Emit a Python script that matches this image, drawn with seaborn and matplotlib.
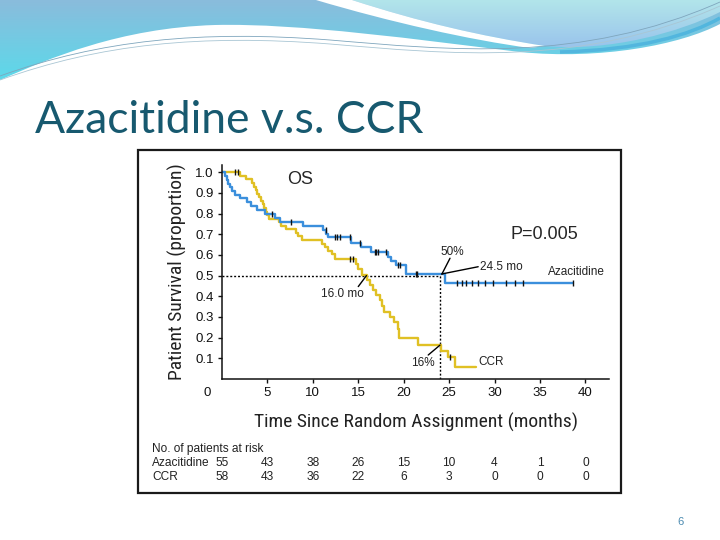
import numpy as np
import matplotlib
matplotlib.use("Agg")
import matplotlib.pyplot as plt
import matplotlib.transforms as mtransforms
from matplotlib.colors import LinearSegmentedColormap
from matplotlib.patches import PathPatch, Rectangle
from matplotlib.path import Path
import seaborn as sns

# Kaplan-Meier steps: month of each drop and survival after it
AZA_TIMES = [0, 0.3, 0.5, 0.7, 0.9, 1.1, 1.4, 2.0, 2.7, 3.2, 3.8, 4.7, 5.8, 6.4,
             8.9, 11.1, 11.5, 11.7, 14.25, 15.35, 16.45, 18.3, 18.65, 19.2,
             20.3, 24.6]
AZA_SURV = [1.0, 0.982, 0.964, 0.945, 0.927, 0.909, 0.891, 0.873, 0.855, 0.836,
            0.818, 0.800, 0.780, 0.760, 0.742, 0.722, 0.703, 0.685, 0.660,
            0.637, 0.613, 0.592, 0.572, 0.551, 0.508, 0.463]
AZA_END = 38.6
AZA_CENSOR = [5.5, 7.6, 11.4, 12.4, 12.7, 13.0, 14.1, 15.2, 16.8, 17.0, 17.2,
              18.1, 19.4, 19.6, 21.3, 21.5, 25.9, 26.4, 26.9, 27.5, 28.2, 28.9,
              29.8, 31.3, 32.2, 33.1, 38.6]

CCR_TIMES = [0, 2.0, 2.6, 3.3, 3.5, 3.7, 3.9, 4.1, 4.3, 4.5, 4.6, 4.8, 4.9, 5.2,
             6.3, 6.5, 7.0, 8.1, 8.4, 8.8, 11.0, 11.3, 11.7, 12.1, 12.4, 14.7,
             15.0, 15.4, 16.0, 16.3, 16.6, 17.0, 17.4, 17.6, 17.8, 18.5, 18.9,
             19.4, 19.5, 21.6, 24.1, 24.9, 25.7]
CCR_SURV = [1.0, 0.983, 0.966, 0.948, 0.931, 0.914, 0.897, 0.879, 0.862, 0.845,
            0.828, 0.810, 0.793, 0.776, 0.759, 0.741, 0.724, 0.707, 0.690,
            0.672, 0.655, 0.638, 0.621, 0.603, 0.580, 0.556, 0.532, 0.505,
            0.479, 0.455, 0.431, 0.407, 0.383, 0.355, 0.326, 0.302, 0.278,
            0.240, 0.197, 0.164, 0.137, 0.108, 0.058]
CCR_END = 28.0
CCR_CENSOR = [1.4, 1.75, 14.1, 14.4, 25.1]

RISK_MONTHS = [0, 5, 10, 15, 20, 25, 30, 35, 40]
AZA_RISK = [55, 43, 38, 26, 15, 10, 4, 1, 0]
CCR_RISK = [58, 43, 36, 22, 6, 3, 0, 0, 0]

X_TICKS = [5, 10, 15, 20, 25, 30, 35, 40]
Y_TICKS = [0.1, 0.2, 0.3, 0.4, 0.5, 0.6, 0.7, 0.8, 0.9, 1.0]

BLUE = "#3b8fdc"
YELLOW = "#e0c024"
TITLE_COLOR = "#17596f"

ARIAL = ["Liberation Sans", "DejaVu Sans"]
NARROW = ["Roboto Condensed", "Liberation Sans Narrow", "Roboto"]


def surv_at(times, surv, t):
    ''' look up the step value at time t '''
    idx = np.searchsorted(times, t, side="right") - 1
    return surv[idx]


def gradient_patch(bg, verts, codes, top, bottom, c_top, c_bottom):
    ''' fill a bezier path with a vertical gradient (pixel coords) '''
    patch = PathPatch(Path(verts, codes), facecolor="none", edgecolor="none")
    bg.add_patch(patch)
    cmap = LinearSegmentedColormap.from_list("g", [c_top, c_bottom])
    grad = np.linspace(0, 1, 100).reshape(-1, 1)
    im = bg.imshow(grad, cmap=cmap, extent=(0, 720, bottom, top),
                   origin="upper", aspect="auto", zorder=1)
    im.set_clip_path(patch)


def draw_header(bg):
    M, L, C, Z = Path.MOVETO, Path.LINETO, Path.CURVE4, Path.CLOSEPOLY
    teal = [(0, 0), (0, 80), (50, 58), (120, 28), (215, 25), (300, 23),
            (420, 40), (520, 52), (600, 60), (680, 45), (720, 24), (720, 0),
            (0, 0)]
    gradient_patch(bg, teal, [M, L, C, C, C, C, C, C, C, C, C, L, Z],
                   0, 80, "#8abcdc", "#5cd9ea")
    swoosh = [(316, 0), (390, 22), (470, 40), (530, 48), (545, 46),
              (480, 36), (420, 22), (352, 0), (316, 0)]
    bg.add_patch(PathPatch(Path(swoosh, [M, C, C, C, L, C, C, C, Z]),
                           facecolor="white", edgecolor="none", zorder=2))
    pale = [(352, 0), (420, 22), (480, 36), (545, 46), (610, 52), (680, 32),
            (720, 12), (720, 0), (352, 0)]
    gradient_patch(bg, pale, [M, C, C, C, C, C, C, L, Z],
                   0, 50, "#b2e5ea", "#98c2ec")
    # thin blue lines across the header
    for off, col in [(0, "#7fa6bd"), (4, "#a9c6d4")]:
        line = [(0, 76 + off), (100, 40 + off), (200, 30 + off),
                (330, 40 + off), (450, 50 + off), (580, 64 + off),
                (720, 2 + off)]
        bg.add_patch(PathPatch(Path(line, [M, C, C, C, C, C, C]),
                               facecolor="none", edgecolor=col, lw=0.6,
                               zorder=3))
    band = [(560, 52), (640, 50), (690, 35), (720, 18)]
    bg.add_patch(PathPatch(Path(band, [M, C, C, C]), facecolor="none",
                           edgecolor="#52b6de", lw=2.5, zorder=3))


def main():
    sns.set_theme(style="white")
    plt.rcParams["font.family"] = ARIAL

    fig = plt.figure(figsize=(7.2, 5.4), dpi=100)
    bg = fig.add_axes([0, 0, 1, 1], zorder=0)
    bg.set_xlim(0, 720)
    bg.set_ylim(540, 0)
    bg.axis("off")

    draw_header(bg)
    bg.set_xlim(0, 720)
    bg.set_ylim(540, 0)

    bg.text(35, 133, "Azacitidine v.s. CCR", fontsize=32, color=TITLE_COLOR,
            family=["Lato", "DejaVu Sans"], va="baseline", ha="left")
    bg.text(680, 522, "6", fontsize=8, color="#4a8ab0", ha="center",
            va="center")
    bg.add_patch(Rectangle((138, 150), 483, 343, facecolor="white",
                           edgecolor="#1a1a1a", lw=1.6, zorder=4))

    ax = fig.add_axes([222 / 720, 1 - 379 / 540, (609 - 222) / 720,
                       (379 - 165) / 540], zorder=2)
    ax.set_facecolor("none")

    # reference lines for the medians and the 24-month mark
    dot = (0, (1.4, 1.4))
    sns.lineplot(x=[0, 24.0], y=[0.5, 0.5], color="black", lw=1,
                 linestyle=dot, ax=ax)
    sns.lineplot(x=[24.0, 24.0], y=[0, 0.5], color="black", lw=1,
                 linestyle=dot, ax=ax, orient="y")

    # survival curves
    aza_x = AZA_TIMES + [AZA_END]
    aza_y = AZA_SURV + [AZA_SURV[-1]]
    ccr_x = CCR_TIMES + [CCR_END]
    ccr_y = CCR_SURV + [CCR_SURV[-1]]
    sns.lineplot(x=ccr_x, y=ccr_y, drawstyle="steps-post", color=YELLOW,
                 lw=1.7, estimator=None, ax=ax)
    sns.lineplot(x=aza_x, y=aza_y, drawstyle="steps-post", color=BLUE,
                 lw=1.7, estimator=None, ax=ax)

    aza_cy = [surv_at(AZA_TIMES, AZA_SURV, t) for t in AZA_CENSOR]
    ccr_cy = [surv_at(CCR_TIMES, CCR_SURV, t) for t in CCR_CENSOR]
    sns.scatterplot(x=AZA_CENSOR + CCR_CENSOR, y=aza_cy + ccr_cy,
                    marker="|", s=14, color="#111111", linewidth=1,
                    ax=ax, zorder=5)

    ax.set_xlim(0, 42.6)
    ax.set_ylim(0, 1.035)
    ax.set_xticks(X_TICKS)
    ax.set_yticks(Y_TICKS)
    ax.set_yticklabels([f"{v:.1f}" for v in Y_TICKS])
    ax.tick_params(direction="out", length=3, width=1, pad=3,
                   labelsize=9.5, colors="#111111", left=True, bottom=True)
    for side in ["top", "right"]:
        ax.spines[side].set_visible(False)
    for side in ["left", "bottom"]:
        ax.spines[side].set_color("#111111")
        ax.spines[side].set_linewidth(1.1)

    ax.set_ylabel("Patient Survival (proportion)", fontsize=14,
                  family=NARROW, color="#222222", labelpad=6)
    ax.set_xlabel("Time Since Random Assignment (months)", fontsize=14,
                  family=NARROW, color="#222222", labelpad=10)

    trans = mtransforms.blended_transform_factory(ax.transData, bg.transData)
    ax.text(-1.6, 393, "0", transform=trans, fontsize=9.5, ha="center",
            va="center", color="#111111")

    # annotations on the curves
    ax.text(8.6, 0.967, "OS", fontsize=13, ha="center", va="center")
    ax.text(35.5, 0.697, "P=0.005", fontsize=13, ha="center", va="center")
    kw = dict(fontsize=8.5, color="#222222", va="center")
    ax.plot([24.2, 25.1], [0.507, 0.584], color="black", lw=1)
    ax.text(25.4, 0.613, "50%", ha="center", **kw)
    ax.plot([24.2, 28.2], [0.508, 0.543], color="black", lw=1)
    ax.text(28.4, 0.543, "24.5 mo", ha="left", **kw)
    ax.text(35.9, 0.519, "Azacitidine", ha="left", **kw)
    ax.plot([15.9, 15.0], [0.5, 0.447], color="black", lw=1)
    ax.text(13.3, 0.411, "16.0 mo", ha="center", **kw)
    ax.plot([24.0, 22.7], [0.164, 0.116], color="black", lw=1)
    ax.text(22.15, 0.076, "16%", ha="center", **kw)
    ax.text(28.2, 0.081, "CCR", ha="left", **kw)

    # number at risk table
    row_kw = dict(transform=trans, fontsize=8.6, color="#222222", va="center")
    ax.text(-7.7, 449, "No. of patients at risk", ha="left", **row_kw)
    ax.text(-7.7, 462.5, "Azacitidine", ha="left", **row_kw)
    ax.text(-7.7, 476.5, "CCR", ha="left", **row_kw)
    for m, a, c in zip(RISK_MONTHS, AZA_RISK, CCR_RISK):
        ax.text(m, 462.5, str(a), ha="center", **row_kw)
        ax.text(m, 476.5, str(c), ha="center", **row_kw)

    fig.savefig("out.png", dpi=100)


if __name__ == "__main__":
    main()
